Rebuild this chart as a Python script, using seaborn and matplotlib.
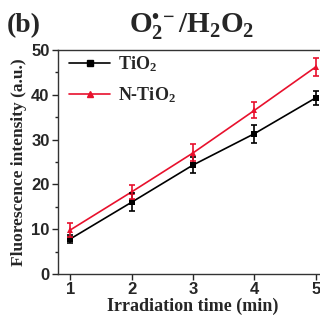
import numpy as np
import pandas as pd
import seaborn as sns
import matplotlib.pyplot as plt

# Данные
time_min = [1, 2, 3, 4, 5]
tio2 = [7.8, 16.0, 24.3, 31.3, 39.3]
tio2_err = [0.9, 2.0, 1.8, 2.0, 1.6]
ntio2 = [9.8, 18.3, 27.0, 36.5, 46.2]
ntio2_err = [1.6, 1.6, 1.9, 1.8, 2.0]

data = pd.DataFrame({
    'time': time_min * 2,
    'value': tio2 + ntio2,
    'sample': ['TiO2'] * 5 + ['N-TiO2'] * 5,
})

sns.set_theme(style="ticks")
plt.rcParams['mathtext.fontset'] = 'custom'
plt.rcParams['mathtext.rm'] = 'Liberation Serif:bold'
plt.rcParams['mathtext.bf'] = 'Liberation Serif:bold'
plt.rcParams['mathtext.it'] = 'Liberation Serif:bold'

fig = plt.figure(figsize=(3.2, 3.2), dpi=100)
ax = fig.add_axes([0.181, 0.144, 0.844, 0.70])

colors = {'TiO2': 'black', 'N-TiO2': '#e8112d'}
markers = {'TiO2': 's', 'N-TiO2': '^'}
sns.lineplot(data=data, x='time', y='value', hue='sample', style='sample',
             palette=colors, markers=markers, dashes=False, markersize=5,
             linewidth=1.2, markeredgewidth=0, ax=ax, legend=False)

ax.errorbar(time_min, tio2, yerr=tio2_err, fmt='none', ecolor='black',
            elinewidth=1.2, capsize=2.5, capthick=1.2)
ax.errorbar(time_min, ntio2, yerr=ntio2_err, fmt='none', ecolor='#e8112d',
            elinewidth=1.2, capsize=2.5, capthick=1.2)

# Легенда
h1, = ax.plot([], [], color='black', marker='s', markersize=4, linewidth=1.2)
h2, = ax.plot([], [], color='#e8112d', marker='^', markersize=4, linewidth=1.2)
ax.legend([h1, h2], [r'TiO$_2$', r'N-TiO$_2$'], loc='upper left', frameon=False,
          prop={'family': 'Liberation Serif', 'weight': 'bold', 'size': 13},
          handlelength=2.3, handletextpad=0.4, borderaxespad=0.2,
          labelspacing=0.65, bbox_to_anchor=(0.0, 1.03))

ax.set_xlim(0.8, 5.2)
ax.set_ylim(0, 50)
ax.set_xticks(time_min)
ax.set_yticks([0, 10, 20, 30, 40, 50])
ax.set_yticks([5, 15, 25, 35, 45], minor=True)
ax.tick_params(axis='both', direction='out', length=4, width=1, labelsize=12, pad=2)
ax.tick_params(axis='y', which='minor', direction='out', length=2.5, width=1)
for lab in ax.get_xticklabels() + ax.get_yticklabels():
    lab.set_fontfamily('Liberation Sans')
    lab.set_fontweight('bold')
for sp in ax.spines.values():
    sp.set_visible(True)
    sp.set_linewidth(1)
    sp.set_color('#333333')

ax.set_xlabel('Irradiation time (min)', family='Liberation Serif',
              fontweight='bold', fontsize=13, labelpad=0)
ax.set_ylabel('Fluorescence intensity (a.u.)', family='Liberation Serif',
              fontweight='bold', fontsize=12.5, labelpad=3)

fig.text(0.02, 0.92, '(b)', family='Liberation Serif', fontweight='bold',
         fontsize=20, va='center', ha='left')
fig.text(0.6, 0.915, 'O$_2^{\u2022-}$/H$_2$O$_2$', family='Liberation Serif',
         fontweight='bold', fontsize=21, va='center', ha='center')

fig.savefig('out.png', dpi=100)
